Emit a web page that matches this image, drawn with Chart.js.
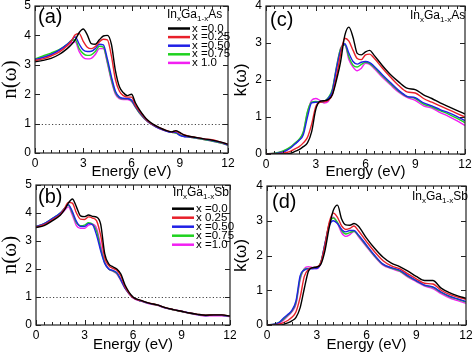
<!DOCTYPE html>
<html>
<head>
<meta charset="utf-8">
<script src="https://cdn.jsdelivr.net/npm/chart.js@4.4.1/dist/chart.umd.min.js"></script>
<style>
html, body { margin: 0; padding: 0; background: #fff; }
#wrap { position: relative; width: 474px; height: 354px; overflow: hidden; }
canvas { position: absolute; }
</style>
</head>
<body>
<div id="wrap">
  <canvas id="chartA" width="236" height="181" style="left:0;top:0"></canvas>
  <canvas id="chartC" width="242" height="181" style="left:232px;top:0"></canvas>
  <canvas id="chartB" width="236" height="175" style="left:0;top:179px"></canvas>
  <canvas id="chartD" width="242" height="175" style="left:232px;top:179px"></canvas>
</div>
<script>
// --- datos ---
const xTickValues = [0, 3, 6, 9, 12];
const nTickValues = [0, 1, 2, 3, 4, 5];
const kTickValues = [0, 1, 2, 3, 4];

const compLabelsAs = ["x =0.0", "x =0.25", "x =0.50", "x =0.75", "x 1.0"];
const compLabelsSb = ["x =0.0", "x 0.25", "x =0.50", "x =0.75", "x =1.0"];
const formulaAs = ["In", "x", "Ga", "1-x", "As"];
const formulaSb = ["In", "x", "Ga", "1-x", "Sb"];

// (a) n(w) InGaAs
const energyA = [0,0.5,1,1.5,2,2.25,2.5,2.75,3,3.25,3.5,3.75,4,4.25,4.5,4.75,5,5.25,5.5,5.75,6,6.25,6.5,7,7.5,8,8.5,8.75,9,9.25,9.5,10,10.5,11,11.5,12];
const nAs00  = [3.1,3.15,3.22,3.35,3.55,3.68,3.85,4.1,4.22,4.02,3.72,3.7,3.85,3.98,4.0,3.7,2.8,2.25,2.05,1.95,2.0,1.7,1.47,1.12,0.93,0.8,0.72,0.76,0.7,0.62,0.58,0.53,0.48,0.44,0.38,0.3];
const nAs25  = [3.15,3.2,3.3,3.43,3.65,3.8,4.02,4.06,3.8,3.6,3.55,3.62,3.78,3.87,3.85,3.3,2.5,2.1,1.95,1.9,1.9,1.62,1.42,1.1,0.92,0.8,0.72,0.74,0.68,0.62,0.58,0.53,0.48,0.45,0.38,0.3];
const nAs50  = [3.18,3.25,3.35,3.5,3.7,3.82,3.95,3.7,3.5,3.45,3.46,3.55,3.7,3.68,3.2,2.6,2.1,1.9,1.86,1.85,1.8,1.58,1.38,1.08,0.9,0.78,0.7,0.7,0.6,0.56,0.55,0.52,0.47,0.42,0.36,0.28];
const nAs75  = [3.2,3.3,3.4,3.52,3.7,3.82,3.85,3.55,3.38,3.32,3.34,3.45,3.63,3.6,3.1,2.5,2.05,1.88,1.84,1.85,1.78,1.56,1.36,1.07,0.9,0.78,0.7,0.68,0.62,0.57,0.55,0.51,0.46,0.41,0.35,0.27];
const nAs100 = [3.18,3.25,3.35,3.48,3.65,3.75,3.78,3.45,3.25,3.2,3.22,3.35,3.55,3.55,3.05,2.45,2.0,1.85,1.82,1.82,1.75,1.55,1.35,1.06,0.89,0.77,0.7,0.68,0.62,0.57,0.55,0.51,0.46,0.41,0.35,0.27];

// (c) k(w) InGaAs
const energyC = [0,0.5,1,1.25,1.5,1.75,2,2.25,2.5,2.75,3,3.25,3.5,3.75,4,4.25,4.5,4.75,5,5.25,5.5,5.75,6,6.25,6.5,7,7.5,8,8.5,9,9.5,10,10.5,11,11.5,12];
const kAs00  = [0,0,0,0,0.02,0.07,0.12,0.2,0.3,0.6,1.2,1.42,1.44,1.47,1.6,2.0,2.5,3.2,3.43,3.15,2.72,2.68,2.76,2.8,2.68,2.4,2.15,1.95,1.78,1.74,1.6,1.5,1.38,1.28,1.18,1.08];
const kAs25  = [0,0,0.02,0.04,0.08,0.14,0.2,0.3,0.45,0.8,1.28,1.4,1.41,1.45,1.6,2.1,2.7,3.13,3.05,2.8,2.58,2.55,2.68,2.7,2.6,2.33,2.08,1.85,1.68,1.65,1.5,1.4,1.3,1.2,1.1,1.0];
const kAs50  = [0,0.01,0.05,0.1,0.17,0.27,0.37,0.52,1.0,1.38,1.4,1.4,1.42,1.5,1.7,2.3,2.8,2.98,2.72,2.5,2.43,2.48,2.5,2.47,2.38,2.15,1.93,1.72,1.56,1.52,1.38,1.3,1.2,1.12,1.02,0.9];
const kAs75  = [0,0.02,0.08,0.13,0.2,0.3,0.4,0.6,1.15,1.4,1.42,1.41,1.42,1.52,1.75,2.35,2.85,2.95,2.62,2.4,2.35,2.42,2.48,2.44,2.35,2.12,1.9,1.7,1.55,1.5,1.35,1.27,1.17,1.08,0.97,0.85];
const kAs100 = [0,0.02,0.07,0.12,0.19,0.28,0.38,0.58,1.12,1.45,1.5,1.45,1.38,1.42,1.72,2.35,2.85,2.95,2.55,2.35,2.25,2.32,2.45,2.42,2.32,2.08,1.87,1.67,1.53,1.45,1.3,1.24,1.12,1.02,0.9,0.77];

// (b) n(w) InGaSb
const energyB = [0,0.5,1,1.5,1.75,2,2.25,2.5,2.75,3,3.25,3.5,3.75,4,4.25,4.5,4.75,5,5.25,5.5,6,6.5,7,7.5,8,8.5,9,9.5,10,10.5,11,11.5,12];
const nSb00  = [3.48,3.55,3.72,3.92,4.1,4.35,4.5,4.22,3.9,3.87,3.93,3.88,3.85,3.6,2.55,2.18,2.08,2.0,1.82,1.44,1.0,0.88,0.78,0.72,0.62,0.55,0.49,0.43,0.38,0.35,0.36,0.36,0.32];
const nSb25  = [3.5,3.58,3.75,3.95,4.15,4.38,4.35,4.0,3.78,3.77,3.86,3.82,3.72,3.2,2.4,2.12,2.02,1.96,1.75,1.38,0.98,0.87,0.78,0.72,0.62,0.55,0.49,0.43,0.38,0.35,0.36,0.36,0.32];
const nSb50  = [3.52,3.62,3.8,4.0,4.15,4.3,4.05,3.7,3.52,3.52,3.62,3.58,3.2,2.65,2.2,2.0,1.95,1.87,1.62,1.33,0.98,0.86,0.77,0.72,0.61,0.55,0.49,0.43,0.37,0.34,0.35,0.35,0.31];
const nSb75  = [3.52,3.62,3.8,4.0,4.15,4.28,4.0,3.65,3.55,3.57,3.65,3.6,3.35,2.72,2.22,2.0,1.93,1.85,1.6,1.33,0.98,0.86,0.77,0.71,0.61,0.54,0.48,0.42,0.37,0.34,0.35,0.35,0.31];
const nSb100 = [3.5,3.6,3.76,3.95,4.08,4.22,3.92,3.55,3.45,3.45,3.57,3.6,3.45,2.85,2.25,2.0,1.92,1.82,1.58,1.32,0.97,0.85,0.76,0.7,0.6,0.54,0.48,0.42,0.36,0.32,0.33,0.33,0.3];

// (d) k(w) InGaSb
const energyD = [0,0.5,0.75,1,1.25,1.5,1.75,2,2.25,2.5,2.75,3,3.25,3.5,3.75,4,4.25,4.5,4.75,5,5.25,5.5,6,6.5,7,7.5,8,8.5,9,9.5,10,10.5,11,11.5,12];
const kSb00  = [0,0,0,0.02,0.06,0.12,0.22,0.5,1.05,1.55,1.65,1.67,1.75,2.15,2.8,3.3,3.45,3.05,2.88,2.87,2.92,2.85,2.5,2.2,1.95,1.78,1.68,1.55,1.4,1.28,1.28,1.06,0.93,0.84,0.77];
const kSb25  = [0,0.01,0.03,0.07,0.13,0.22,0.38,0.8,1.4,1.6,1.65,1.67,1.8,2.3,2.95,3.22,3.1,2.85,2.75,2.78,2.85,2.72,2.4,2.1,1.85,1.7,1.62,1.47,1.33,1.2,1.18,1.0,0.88,0.8,0.74];
const kSb50  = [0,0.03,0.08,0.2,0.3,0.42,0.7,1.42,1.58,1.62,1.62,1.63,1.8,2.35,2.85,3.0,2.92,2.75,2.68,2.72,2.72,2.6,2.3,2.0,1.75,1.65,1.58,1.42,1.28,1.15,1.1,0.95,0.83,0.75,0.68];
const kSb75  = [0,0.03,0.08,0.17,0.28,0.4,0.65,1.35,1.6,1.63,1.63,1.64,1.82,2.35,2.9,3.08,2.95,2.72,2.62,2.66,2.7,2.58,2.28,1.98,1.74,1.64,1.56,1.4,1.27,1.14,1.08,0.94,0.82,0.74,0.66];
const kSb100 = [0,0.02,0.06,0.14,0.25,0.38,0.6,1.3,1.62,1.68,1.65,1.62,1.78,2.35,2.9,3.1,2.92,2.65,2.55,2.6,2.7,2.55,2.25,1.96,1.72,1.62,1.54,1.38,1.25,1.12,1.05,0.9,0.78,0.7,0.62];

const unityLevel = 1;

// --- estilo ---
const SANS = "'Liberation Sans', Arial, sans-serif";
const SERIF = "'Liberation Serif', 'Times New Roman', serif";
const lineColors = ["#000000", "#e8202a", "#2020e6", "#1fd21f", "#f21ff2"];

// decoraciones por panel (posiciones relativas al canvas)
const decor = {
    chartA: { tag: "(a)", tagX: 38, tagY: 17, formula: formulaAs, fx: 167, fy: 15,
              legend: compLabelsAs, lx: 168, ly: 28.5, lgap: 8.6, ref: unityLevel, yTicks: nTickValues },
    chartC: { tag: "(c)", tagX: 38, tagY: 20, formula: formulaAs, fx: 178, fy: 16,
              yTicks: kTickValues },
    chartB: { tag: "(b)", tagX: 38, tagY: 18, formula: formulaSb, fx: 173, fy: 14,
              legend: compLabelsSb, lx: 172, ly: 29.7, lgap: 9, ref: unityLevel, yTicks: nTickValues },
    chartD: { tag: "(d)", tagX: 40, tagY: 23.5, formula: formulaSb, fx: 180, fy: 18,
              yTicks: kTickValues }
};

function drawFormula(ctx, parts, x, y) {
    let cx = x;
    ctx.textBaseline = "middle";
    ctx.textAlign = "left";
    parts.forEach((p, i) => {
        const sub = i % 2 === 1;
        ctx.font = (sub ? "8px " : "12px ") + SANS;
        ctx.fillText(p, cx, sub ? y + 3.5 : y);
        cx += ctx.measureText(p).width;
    });
}

const panelDeco = {
    id: "panelDeco",
    beforeDatasetsDraw(chart) {
        const d = decor[chart.canvas.id];
        if (d.ref === undefined) return;
        const { ctx, chartArea: a } = chart;
        const py = Math.round(chart.scales.y.getPixelForValue(d.ref)) + 0.5;
        ctx.save();
        ctx.strokeStyle = "#444";
        ctx.lineWidth = 1;
        ctx.setLineDash([1.2, 2.2]);
        ctx.beginPath();
        ctx.moveTo(a.left, py);
        ctx.lineTo(a.right, py);
        ctx.stroke();
        ctx.restore();
    },
    afterDraw(chart) {
        const d = decor[chart.canvas.id];
        const { ctx, chartArea: a, scales: { x, y } } = chart;
        ctx.save();
        ctx.strokeStyle = "#222";
        ctx.lineWidth = 1.2;
        ctx.strokeRect(a.left, a.top, a.right - a.left, a.bottom - a.top);

        // marcas hacia adentro
        ctx.lineWidth = 1;
        ctx.beginPath();
        for (let v = x.min; v <= x.max + 1e-9; v += 0.5) {
            const px = Math.round(x.getPixelForValue(v)) + 0.5;
            const len = xTickValues.includes(v) ? 5 : 3;
            ctx.moveTo(px, a.bottom); ctx.lineTo(px, a.bottom - len);
            ctx.moveTo(px, a.top); ctx.lineTo(px, a.top + len);
        }
        d.yTicks.forEach(v => {
            const py = Math.round(y.getPixelForValue(v)) + 0.5;
            ctx.moveTo(a.left, py); ctx.lineTo(a.left + 5, py);
            ctx.moveTo(a.right, py); ctx.lineTo(a.right - 5, py);
        });
        ctx.stroke();

        ctx.fillStyle = "#000";
        ctx.font = "20px " + SANS;
        ctx.textBaseline = "middle";
        ctx.textAlign = "left";
        ctx.fillText(d.tag, d.tagX, d.tagY);

        drawFormula(ctx, d.formula, d.fx, d.fy);

        if (d.legend) {
            d.legend.forEach((label, i) => {
                const ry = d.ly + i * d.lgap;
                ctx.strokeStyle = lineColors[i];
                ctx.lineWidth = 2.5;
                ctx.beginPath();
                ctx.moveTo(d.lx, ry);
                ctx.lineTo(d.lx + 22, ry);
                ctx.stroke();
                ctx.fillStyle = "#000";
                ctx.font = "11.5px " + SANS;
                ctx.fillText(label, d.lx + 24, ry);
            });
        }
        ctx.restore();
    }
};

function buildSets(energy, series) {
    return series.map((vals, i) => ({
        data: energy.map((e, j) => ({ x: e, y: vals[j] })),
        borderColor: lineColors[i],
        borderWidth: 1.4,
        pointRadius: 0,
        cubicInterpolationMode: "monotone",
        fill: false
    }));
}

function makePanel(id, energy, series, yTicks, yTitle, yFont, yWidth, xHeight, pad) {
    const canvas = document.getElementById(id);
    canvas._chartInstance = new Chart(canvas.getContext("2d"), {
        type: "line",
        data: { datasets: buildSets(energy, series) },
        plugins: [panelDeco],
        options: {
            responsive: false,
            animation: false,
            devicePixelRatio: 1,
            layout: { padding: pad },
            plugins: { legend: { display: false }, tooltip: { enabled: false } },
            scales: {
                x: {
                    type: "linear", min: 0, max: 12,
                    afterBuildTicks: s => { s.ticks = xTickValues.map(v => ({ value: v })); },
                    afterFit: s => { s.height = xHeight; s.paddingLeft = 0; s.paddingRight = 0; },
                    ticks: { color: "#000", font: { size: 12, family: SANS }, padding: 3, maxRotation: 0 },
                    grid: { display: false, drawTicks: false },
                    border: { display: false },
                    title: { display: true, text: "Energy (eV)", color: "#000",
                             font: { size: 15, family: SANS }, padding: 0 }
                },
                y: {
                    type: "linear", min: 0, max: yTicks[yTicks.length - 1],
                    afterBuildTicks: s => { s.ticks = yTicks.map(v => ({ value: v })); },
                    afterFit: s => { s.width = yWidth; s.paddingTop = 0; s.paddingBottom = 0; },
                    ticks: { color: "#000", font: { size: 12, family: SANS }, padding: 4 },
                    grid: { display: false, drawTicks: false },
                    border: { display: false },
                    title: { display: true, text: yTitle, color: "#000", font: yFont, padding: 0 }
                }
            }
        }
    });
}

const nFont = { size: 21, family: SERIF, lineHeight: 1 };
const kFont = { size: 17, family: SANS, lineHeight: 1.05 };

makePanel("chartA", energyA, [nAs00, nAs25, nAs50, nAs75, nAs100], nTickValues, "n(ω)", nFont,
          35, 28, { top: 6, right: 8, bottom: 0, left: 0 });
makePanel("chartC", energyC, [kAs00, kAs25, kAs50, kAs75, kAs100], kTickValues, "k(ω)", kFont,
          34, 27, { top: 6, right: 9, bottom: 0, left: 0 });
makePanel("chartB", energyB, [nSb00, nSb25, nSb50, nSb75, nSb100], nTickValues, "n(ω)", nFont,
          36, 29, { top: 6, right: 6, bottom: 0, left: 0 });
makePanel("chartD", energyD, [kSb00, kSb25, kSb50, kSb75, kSb100], kTickValues, "k(ω)", kFont,
          35, 29, { top: 7, right: 8, bottom: 0, left: 0 });
</script>
</body>
</html>
